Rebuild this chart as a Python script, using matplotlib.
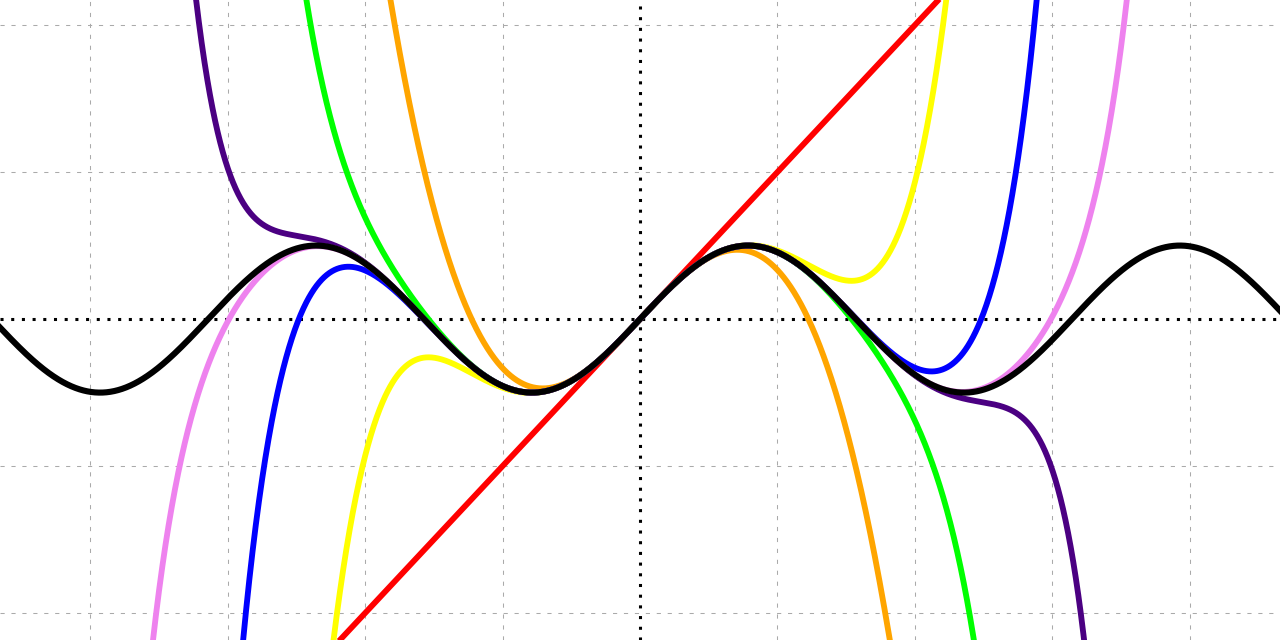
import numpy as np
import matplotlib
matplotlib.use("Agg")
import matplotlib.pyplot as plt
from math import factorial

# Taylor polynomial degrees of sin(x) and their colours
degrees = [1, 3, 5, 7, 9, 11, 13]
colors = ["#ff0000", "#ffa500", "#ffff00", "#00ff00", "#0000ff", "#4b0082", "#ee82ee"]
grid_x = [-8, -6, -4, -2, 2, 4, 6, 8]
grid_y = [-4, -2, 2, 4]
xlim = (-9.31, 9.31)
ylim = (-4.365, 4.34)

fig = plt.figure(figsize=(12.8, 6.4), dpi=100)
ax = fig.add_axes([0, 0, 1, 1])
ax.set_xlim(*xlim)
ax.set_ylim(*ylim)
for s in ax.spines.values():
    s.set_visible(False)
ax.set_xticks([])
ax.set_yticks([])

grid_style = dict(color="#aaaaaa", linewidth=0.75, linestyle=(0, (4, 6.5)), zorder=0)
for gx in grid_x:
    ax.axvline(gx, **grid_style)
for gy in grid_y:
    ax.axhline(gy, **grid_style)

axis_style = dict(color="black", linewidth=2.2, linestyle=(0, (1, 2.5)),
                  dash_capstyle="butt", zorder=1)
ax.axhline(0, **axis_style)
ax.axvline(0, **axis_style)

x = np.linspace(xlim[0], xlim[1], 4000)
for k, (deg, col) in enumerate(zip(degrees, colors)):
    y = np.zeros_like(x)
    for n in range(1, deg + 1, 2):
        sign = (-1) ** ((n - 1) // 2)
        y = y + sign * x ** n / factorial(n)
    ax.plot(x, y, color=col, linewidth=4.2, zorder=2 + k, solid_capstyle="butt")

ax.plot(x, np.sin(x), color="black", linewidth=4.4, zorder=20)

fig.savefig("out.png", dpi=100)
